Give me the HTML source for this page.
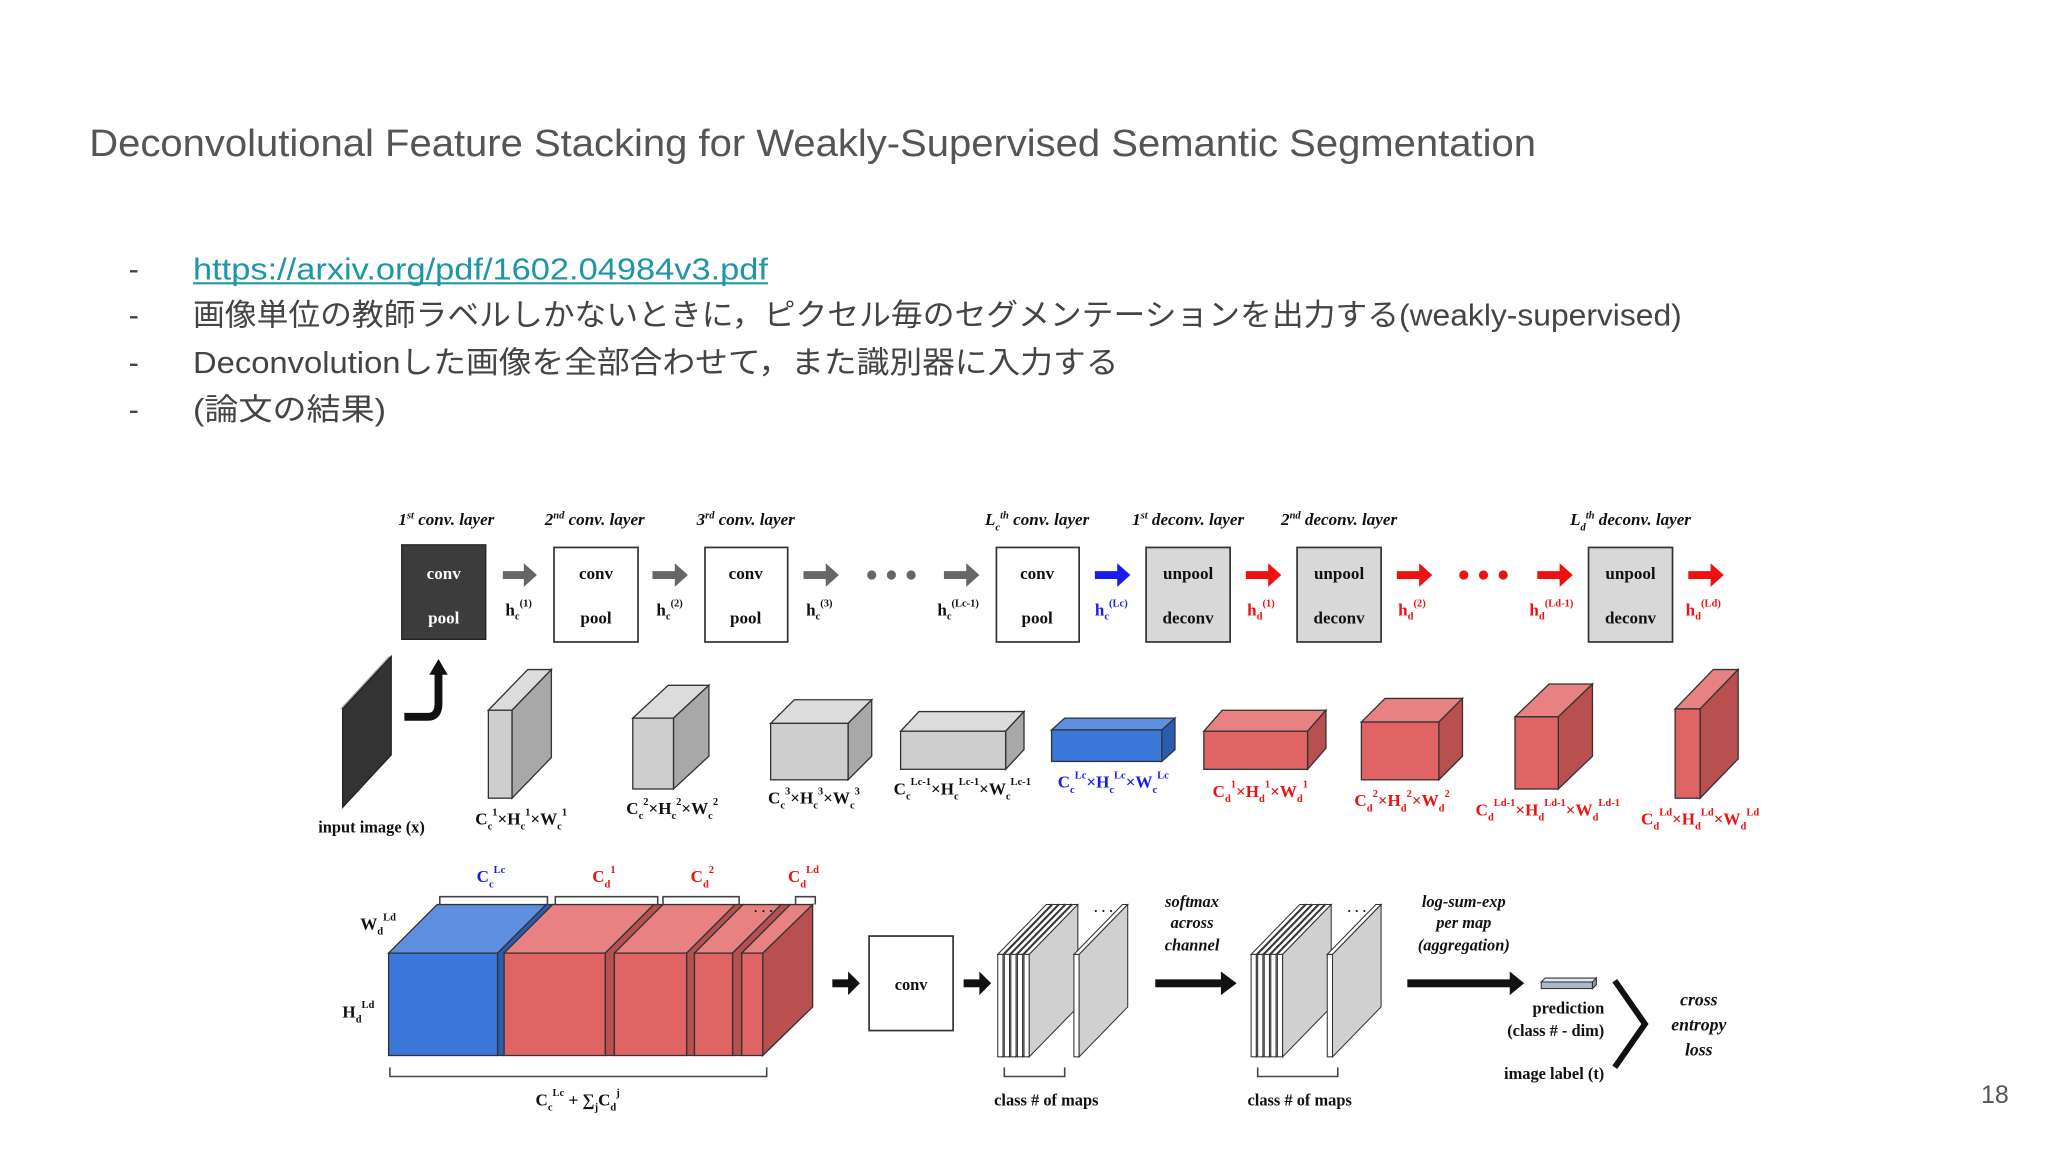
<!DOCTYPE html>
<html><head><meta charset="utf-8"><style>
html,body{margin:0;padding:0;background:#fff;}
svg{display:block;}
.s{font-family:"Liberation Serif","DejaVu Serif",serif;font-weight:bold;}
.i{font-style:italic;}
</style></head><body>
<svg width="2048" height="1152" viewBox="0 0 1560 877.5" xmlns="http://www.w3.org/2000/svg">
<rect width="1560" height="877.5" fill="#fff"/>
<g font-family="'Liberation Sans','Noto Sans CJK JP',sans-serif" fill="#444">
<text x="68" y="119" font-size="29" fill="#555" textLength="1102" lengthAdjust="spacingAndGlyphs">Deconvolutional Feature Stacking for Weakly-Supervised Semantic Segmentation</text>
<g font-size="23.5">
<text x="98" y="213">-</text><text x="147" y="213" fill="#1f95a8" textLength="438" lengthAdjust="spacingAndGlyphs">https://arxiv.org/pdf/1602.04984v3.pdf</text>
<rect x="147" y="215" width="438" height="1.6" fill="#1f95a8"/>
<text x="98" y="248">-</text><text x="147" y="248" textLength="1134" lengthAdjust="spacingAndGlyphs">画像単位の教師ラベルしかないときに，ピクセル毎のセグメンテーションを出力する(weakly-supervised)</text>
<text x="98" y="284">-</text><text x="147" y="284" textLength="705" lengthAdjust="spacingAndGlyphs">Deconvolutionした画像を全部合わせて，また識別器に入力する</text>
<text x="98" y="320">-</text><text x="147" y="320" textLength="147" lengthAdjust="spacingAndGlyphs">(論文の結果)</text>
</g>
<text x="1509" y="840" font-size="19" fill="#555">18</text>
</g>

<g class="s" font-size="13" fill="#111">
<g class="i" text-anchor="middle">
<text x="340" y="400">1<tspan font-size="8" dy="-5">st</tspan><tspan dy="5"> conv. layer</tspan></text>
<text x="453" y="400">2<tspan font-size="8" dy="-5">nd</tspan><tspan dy="5"> conv. layer</tspan></text>
<text x="568" y="400">3<tspan font-size="8" dy="-5">rd</tspan><tspan dy="5"> conv. layer</tspan></text>
<text x="790" y="400">L<tspan font-size="8" dy="4">c</tspan><tspan font-size="8" dy="-9">th</tspan><tspan dy="5"> conv. layer</tspan></text>
<text x="905" y="400">1<tspan font-size="8" dy="-5">st</tspan><tspan dy="5"> deconv. layer</tspan></text>
<text x="1020" y="400">2<tspan font-size="8" dy="-5">nd</tspan><tspan dy="5"> deconv. layer</tspan></text>
<text x="1242" y="400">L<tspan font-size="8" dy="4">d</tspan><tspan font-size="8" dy="-9">th</tspan><tspan dy="5"> deconv. layer</tspan></text>
</g>
<rect x="306" y="415" width="64" height="72" fill="#3c3c3c" stroke="#222"/>
<rect x="422" y="417" width="64" height="72" fill="#fff" stroke="#333" stroke-width="1.3"/>
<rect x="537" y="417" width="63" height="72" fill="#fff" stroke="#333" stroke-width="1.3"/>
<rect x="759" y="417" width="63" height="72" fill="#fff" stroke="#333" stroke-width="1.3"/>
<rect x="873" y="417" width="64" height="72" fill="#d8d8d8" stroke="#333" stroke-width="1.3"/>
<rect x="988" y="417" width="64" height="72" fill="#d8d8d8" stroke="#333" stroke-width="1.3"/>
<rect x="1210" y="417" width="64" height="72" fill="#d8d8d8" stroke="#333" stroke-width="1.3"/>
<g text-anchor="middle" font-size="13">
<text x="338" y="441" fill="#fff">conv</text><text x="338" y="475" fill="#fff">pool</text>
<text x="454" y="441">conv</text><text x="454" y="475">pool</text>
<text x="568" y="441">conv</text><text x="568" y="475">pool</text>
<text x="790" y="441">conv</text><text x="790" y="475">pool</text>
<text x="905" y="441">unpool</text><text x="905" y="475">deconv</text>
<text x="1020" y="441">unpool</text><text x="1020" y="475">deconv</text>
<text x="1242" y="441">unpool</text><text x="1242" y="475">deconv</text>
</g>
<g fill="#666">
<path d="M383,435h16v-6l10,9l-10,9v-6h-16z"/>
<path d="M497,435h17v-6l10,9l-10,9v-6h-17z"/>
<path d="M612,435h17v-6l10,9l-10,9v-6h-17z"/>
<path d="M719,435h17v-6l10,9l-10,9v-6h-17z"/>
<circle cx="664" cy="438" r="3.5"/><circle cx="679" cy="438" r="3.5"/><circle cx="694" cy="438" r="3.5"/>
</g>
<path d="M834,435h17v-6l10,9l-10,9v-6h-17z" fill="#1a1aee"/>
<g fill="#ee1111">
<path d="M949,435h17v-6l10,9l-10,9v-6h-17z"/>
<path d="M1064,435h17v-6l10,9l-10,9v-6h-17z"/>
<path d="M1171,435h17v-6l10,9l-10,9v-6h-17z"/>
<path d="M1286,435h17v-6l10,9l-10,9v-6h-17z"/>
<circle cx="1115" cy="438" r="3.5"/><circle cx="1130" cy="438" r="3.5"/><circle cx="1145" cy="438" r="3.5"/>
</g>
<g font-size="13">
<text x="385" y="469">h<tspan font-size="8" dy="3">c</tspan><tspan font-size="8" dy="-10">(1)</tspan></text>
<text x="500" y="469">h<tspan font-size="8" dy="3">c</tspan><tspan font-size="8" dy="-10">(2)</tspan></text>
<text x="614" y="469">h<tspan font-size="8" dy="3">c</tspan><tspan font-size="8" dy="-10">(3)</tspan></text>
<text x="714" y="469">h<tspan font-size="8" dy="3">c</tspan><tspan font-size="8" dy="-10">(Lc-1)</tspan></text>
<text x="834" y="469" fill="#1a1aee">h<tspan font-size="8" dy="3">c</tspan><tspan font-size="8" dy="-10">(Lc)</tspan></text>
<g fill="#ee1111">
<text x="950" y="469">h<tspan font-size="8" dy="3">d</tspan><tspan font-size="8" dy="-10">(1)</tspan></text>
<text x="1065" y="469">h<tspan font-size="8" dy="3">d</tspan><tspan font-size="8" dy="-10">(2)</tspan></text>
<text x="1165" y="469">h<tspan font-size="8" dy="3">d</tspan><tspan font-size="8" dy="-10">(Ld-1)</tspan></text>
<text x="1284" y="469">h<tspan font-size="8" dy="3">d</tspan><tspan font-size="8" dy="-10">(Ld)</tspan></text>
</g>
</g>

<polygon points="259,540 296,500 298,500 261,540" fill="#aaa"/>
<polygon points="261,540 298,500 298,575 261,615" fill="#333" stroke="#222"/>
<text x="283" y="634" text-anchor="middle" font-size="12.5">input image (x)</text>
<path d="M308,546 H326 Q334,546 334,536 V512" fill="none" stroke="#111" stroke-width="6"/>
<path d="M327,514 L334,502 L341,514z" fill="#111"/>

<g stroke="#333" stroke-width="1">
<polygon points="372,541 402,510 420,510 390,541" fill="#dcdcdc"/><polygon points="390,541 420,510 420,577 390,608" fill="#a8a8a8"/><rect x="372" y="541" width="18" height="67" fill="#cecece"/>
<polygon points="482,547 509,522 540,522 513,547" fill="#dcdcdc"/><polygon points="513,547 540,522 540,576 513,601" fill="#a8a8a8"/><rect x="482" y="547" width="31" height="54" fill="#cecece"/>
<polygon points="587,551 605,533 664,533 646,551" fill="#dcdcdc"/><polygon points="646,551 664,533 664,576 646,594" fill="#a8a8a8"/><rect x="587" y="551" width="59" height="43" fill="#cecece"/>
<polygon points="686,557 700,542 780,542 766,557" fill="#dcdcdc"/><polygon points="766,557 780,542 780,571 766,586" fill="#a8a8a8"/><rect x="686" y="557" width="80" height="29" fill="#cecece"/>
<polygon points="801,556 811,547 895,547 885,556" fill="#5d8fe2"/><polygon points="885,556 895,547 895,571 885,580" fill="#2b5cb0"/><rect x="801" y="556" width="84" height="24" fill="#3a77d8"/>
<polygon points="917,557 931,541 1010,541 996,557" fill="#e88282"/><polygon points="996,557 1010,541 1010,570 996,586" fill="#b85050"/><rect x="917" y="557" width="79" height="29" fill="#e06464"/>
<polygon points="1037,550 1055,532 1114,532 1096,550" fill="#e88282"/><polygon points="1096,550 1114,532 1114,576 1096,594" fill="#b85050"/><rect x="1037" y="550" width="59" height="44" fill="#e06464"/>
<polygon points="1154,546 1180,521 1213,521 1187,546" fill="#e88282"/><polygon points="1187,546 1213,521 1213,576 1187,601" fill="#b85050"/><rect x="1154" y="546" width="33" height="55" fill="#e06464"/>
<polygon points="1276,540 1305,510 1324,510 1295,540" fill="#e88282"/><polygon points="1295,540 1324,510 1324,578 1295,608" fill="#b85050"/><rect x="1276" y="540" width="19" height="68" fill="#e06464"/>
</g>
<g font-size="13" text-anchor="middle">
<text x="397" y="628">C<tspan font-size="8" dy="4">c</tspan><tspan font-size="8" dy="-11">1</tspan><tspan dy="7">×H</tspan><tspan font-size="8" dy="4">c</tspan><tspan font-size="8" dy="-11">1</tspan><tspan dy="7">×W</tspan><tspan font-size="8" dy="4">c</tspan><tspan font-size="8" dy="-11">1</tspan></text>
<text x="512" y="620">C<tspan font-size="8" dy="4">c</tspan><tspan font-size="8" dy="-11">2</tspan><tspan dy="7">×H</tspan><tspan font-size="8" dy="4">c</tspan><tspan font-size="8" dy="-11">2</tspan><tspan dy="7">×W</tspan><tspan font-size="8" dy="4">c</tspan><tspan font-size="8" dy="-11">2</tspan></text>
<text x="620" y="612">C<tspan font-size="8" dy="4">c</tspan><tspan font-size="8" dy="-11">3</tspan><tspan dy="7">×H</tspan><tspan font-size="8" dy="4">c</tspan><tspan font-size="8" dy="-11">3</tspan><tspan dy="7">×W</tspan><tspan font-size="8" dy="4">c</tspan><tspan font-size="8" dy="-11">3</tspan></text>
<text x="733" y="605">C<tspan font-size="8" dy="4">c</tspan><tspan font-size="8" dy="-11">Lc-1</tspan><tspan dy="7">×H</tspan><tspan font-size="8" dy="4">c</tspan><tspan font-size="8" dy="-11">Lc-1</tspan><tspan dy="7">×W</tspan><tspan font-size="8" dy="4">c</tspan><tspan font-size="8" dy="-11">Lc-1</tspan></text>
<text x="848" y="600" fill="#1a1aee">C<tspan font-size="8" dy="4">c</tspan><tspan font-size="8" dy="-11">Lc</tspan><tspan dy="7">×H</tspan><tspan font-size="8" dy="4">c</tspan><tspan font-size="8" dy="-11">Lc</tspan><tspan dy="7">×W</tspan><tspan font-size="8" dy="4">c</tspan><tspan font-size="8" dy="-11">Lc</tspan></text>
<g fill="#ee1111">
<text x="960" y="607">C<tspan font-size="8" dy="4">d</tspan><tspan font-size="8" dy="-11">1</tspan><tspan dy="7">×H</tspan><tspan font-size="8" dy="4">d</tspan><tspan font-size="8" dy="-11">1</tspan><tspan dy="7">×W</tspan><tspan font-size="8" dy="4">d</tspan><tspan font-size="8" dy="-11">1</tspan></text>
<text x="1068" y="614">C<tspan font-size="8" dy="4">d</tspan><tspan font-size="8" dy="-11">2</tspan><tspan dy="7">×H</tspan><tspan font-size="8" dy="4">d</tspan><tspan font-size="8" dy="-11">2</tspan><tspan dy="7">×W</tspan><tspan font-size="8" dy="4">d</tspan><tspan font-size="8" dy="-11">2</tspan></text>
<text x="1179" y="621">C<tspan font-size="8" dy="4">d</tspan><tspan font-size="8" dy="-11">Ld-1</tspan><tspan dy="7">×H</tspan><tspan font-size="8" dy="4">d</tspan><tspan font-size="8" dy="-11">Ld-1</tspan><tspan dy="7">×W</tspan><tspan font-size="8" dy="4">d</tspan><tspan font-size="8" dy="-11">Ld-1</tspan></text>
<text x="1295" y="628">C<tspan font-size="8" dy="4">d</tspan><tspan font-size="8" dy="-11">Ld</tspan><tspan dy="7">×H</tspan><tspan font-size="8" dy="4">d</tspan><tspan font-size="8" dy="-11">Ld</tspan><tspan dy="7">×W</tspan><tspan font-size="8" dy="4">d</tspan><tspan font-size="8" dy="-11">Ld</tspan></text>
</g>
</g>

<g stroke="#333" stroke-width="1">
<polygon points="581,726 619,689 619,767 581,804" fill="#b85050"/>
<polygon points="296,726 333,689 416,689 379,726" fill="#5f8fe0"/>
<polygon points="379,726 416,689 421,689 384,726 384,804 379,804" fill="#2b5cb0"/>
<rect x="296" y="726" width="83" height="78" fill="#3a77d8"/>
<polygon points="384,726 421,689 498,689 461,726" fill="#e88282"/>
<polygon points="461,726 498,689 505,689 468,726 468,804 461,804" fill="#b85050"/>
<rect x="384" y="726" width="77" height="78" fill="#e06464"/>
<polygon points="468,726 505,689 560,689 523,726" fill="#e88282"/>
<polygon points="523,726 560,689 566,689 529,726 529,804 523,804" fill="#b85050"/>
<rect x="468" y="726" width="55" height="78" fill="#e06464"/>
<polygon points="529,726 566,689 595,689 558,726" fill="#e88282"/>
<polygon points="558,726 595,689 602,689 565,726 565,804 558,804" fill="#b85050"/>
<rect x="529" y="726" width="29" height="78" fill="#e06464"/>
<polygon points="565,726 602,689 619,689 581,726" fill="#e88282"/>
<rect x="565" y="726" width="16" height="78" fill="#e06464"/>
</g>
<text x="574" y="697" font-size="10">· · ·</text>
<g fill="none" stroke="#444" stroke-width="1.2">
<path d="M335,689 v-6 h82 v6"/><path d="M423,689 v-6 h78 v6"/><path d="M505,689 v-6 h58 v6"/><path d="M606,689 v-6 h15 v6"/>
<path d="M297,813 v7 h287 v-7"/>
</g>
<g font-size="13" text-anchor="middle">
<text x="374" y="672" fill="#1a1aee">C<tspan font-size="8" dy="4">c</tspan><tspan font-size="8" dy="-11">Lc</tspan></text>
<text x="460" y="672" fill="#ee1111">C<tspan font-size="8" dy="4">d</tspan><tspan font-size="8" dy="-11">1</tspan></text>
<text x="535" y="672" fill="#ee1111">C<tspan font-size="8" dy="4">d</tspan><tspan font-size="8" dy="-11">2</tspan></text>
<text x="612" y="672" fill="#ee1111">C<tspan font-size="8" dy="4">d</tspan><tspan font-size="8" dy="-11">Ld</tspan></text>
<text x="288" y="708">W<tspan font-size="8" dy="4">d</tspan><tspan font-size="8" dy="-11">Ld</tspan></text>
<text x="273" y="775">H<tspan font-size="8" dy="4">d</tspan><tspan font-size="8" dy="-11">Ld</tspan></text>
<text x="440" y="842">C<tspan font-size="8" dy="4">c</tspan><tspan font-size="8" dy="-11">Lc</tspan><tspan dy="7"> + ∑</tspan><tspan font-size="8" dy="4">j</tspan><tspan dy="-4">C</tspan><tspan font-size="8" dy="4">d</tspan><tspan font-size="8" dy="-11">j</tspan></text>
</g>
<path d="M634,746h12v-6l9,9l-9,9v-6h-12z" fill="#111"/>
<rect x="662" y="713" width="64" height="72" fill="#fff" stroke="#333" stroke-width="1.3"/>
<text x="694" y="754" font-size="12.5" text-anchor="middle">conv</text>
<path d="M734,746h12v-6l9,9l-9,9v-6h-12z" fill="#111"/>

<defs>
<g id="sh"><polygon points="0,727 37,689 41,689 4,727" fill="#fff" stroke="#333" stroke-width="0.8"/><rect x="0" y="727" width="4" height="78" fill="#fff" stroke="#333" stroke-width="0.8"/><polygon points="4,727 41,689 41,767 4,805" fill="#d0d0d0" stroke="#333" stroke-width="0.8"/></g>
</defs>
<use href="#sh" x="760"/><use href="#sh" x="765"/><use href="#sh" x="770"/><use href="#sh" x="775"/><use href="#sh" x="780"/><use href="#sh" x="818"/>
<use href="#sh" x="953"/><use href="#sh" x="958"/><use href="#sh" x="963"/><use href="#sh" x="968"/><use href="#sh" x="973"/><use href="#sh" x="1011"/>
<text x="833" y="697" font-size="10">· · ·</text>
<text x="1026" y="697" font-size="10">· · ·</text>
<g fill="none" stroke="#444" stroke-width="1.2"><path d="M765,813 v7 h46 v-7"/><path d="M958,813 v7 h61 v-7"/></g>
<g font-size="12.5" text-anchor="middle">
<text x="797" y="842">class # of maps</text>
<text x="990" y="842">class # of maps</text>
<g class="i"><text x="908" y="691">softmax</text><text x="908" y="707">across</text><text x="908" y="724">channel</text>
<text x="1115" y="691">log-sum-exp</text><text x="1115" y="707">per map</text><text x="1115" y="724">(aggregation)</text>
<text x="1294" y="766" font-size="13.5">cross</text><text x="1294" y="785" font-size="13.5">entropy</text><text x="1294" y="804" font-size="13.5">loss</text></g>
</g>
<path d="M880,746h50v-6l12,9l-12,9v-6h-50z" fill="#111"/>
<path d="M1072,746h78v-6l11,9l-11,9v-6h-78z" fill="#111"/>
<polygon points="1174,748 1177,745 1216,745 1213,748" fill="#e4e8ee" stroke="#333" stroke-width="0.8"/>
<rect x="1174" y="748" width="39" height="5" fill="#a9b9cc" stroke="#333" stroke-width="0.8"/>
<polygon points="1213,748 1216,745 1216,750 1213,753" fill="#8899aa" stroke="#333" stroke-width="0.8"/>
<g font-size="12.5" text-anchor="end">
<text x="1222" y="772">prediction</text><text x="1222" y="789">(class # - dim)</text><text x="1222" y="822">image label (t)</text>
</g>
<path d="M1230,747 L1253,780 L1230,813" fill="none" stroke="#111" stroke-width="4.5"/>
</g>
</svg>
</body></html>
